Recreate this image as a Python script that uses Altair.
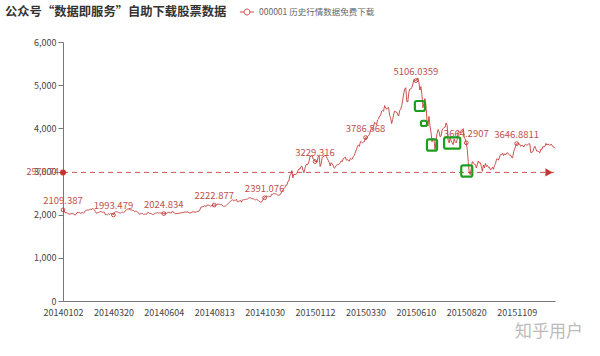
import altair as alt
import pandas as pd

title_text = "公众号“数据即服务”自助下载股票数据"
series_name = "000001 历史行情数据免费下载"
watermark = "知乎用户"

tick_labels = ["20140102", "20140320", "20140604", "20140813", "20141030",
               "20150112", "20150330", "20150610", "20150820", "20151109"]

# daily closes, 50 trading days per segment (first value of each segment is labelled)
seg0 = [2109.387, 2083.14, 2045.71, 2047.32, 2044.34, 2027.62, 2013.30, 2009.56, 2026.84, 2023.35,
        2023.66, 2004.95, 1991.25, 2008.31, 2051.75, 2042.18, 2054.39, 2033.30, 2038.51, 2049.91,
        2033.08, 2044.50, 2086.12, 2103.67, 2109.96, 2100.70, 2115.85, 2135.56, 2111.31, 2142.48,
        2127.94, 2113.69, 2076.69, 2034.22, 2041.06, 2047.35, 2056.30, 2075.24, 2071.47, 2053.09,
        2060.37, 2057.91, 1999.06, 2001.16, 1997.69, 2019.11, 2004.34, 2023.67, 2025.20, 2021.73]
seg1 = [1993.479, 2047.62, 2066.28, 2067.31, 2063.67, 2046.59, 2041.71, 2033.31, 2047.46, 2059.90,
        2043.71, 2058.99, 2098.29, 2109.84, 2134.28, 2130.54, 2131.54, 2105.12, 2106.25, 2098.89,
        2097.75, 2066.28, 2078.96, 2074.54, 2059.99, 2036.51, 2000.72, 2022.01, 2026.36, 2027.35,
        2004.21, 2012.10, 2010.08, 2011.13, 2052.87, 2050.49, 2024.24, 2027.28, 2021.30, 2005.22,
        2008.03, 2024.95, 2034.57, 2041.48, 2050.19, 2035.65, 2041.09, 2039.21, 2038.30, 2034.57]
seg2 = [2024.834, 2029.75, 2029.51, 2033.77, 2052.53, 2051.75, 2055.66, 2030.28, 2071.11, 2066.68,
        2055.25, 2024.37, 2023.73, 2026.67, 2025.50, 2034.06, 2036.51, 2039.70, 2048.33, 2050.38,
        2059.42, 2063.24, 2059.07, 2057.03, 2066.48, 2039.41, 2038.66, 2047.26, 2059.58, 2067.14,
        2065.88, 2054.48, 2059.08, 2075.48, 2075.45, 2083.19, 2126.61, 2177.96, 2183.03, 2181.24,
        2201.56, 2201.56, 2185.30, 2223.33, 2221.59, 2217.20, 2194.42, 2197.53, 2224.65, 2220.33]
seg3 = [2222.877, 2206.18, 2226.73, 2239.46, 2245.33, 2240.81, 2227.92, 2240.81, 2212.51, 2194.56,
        2195.04, 2197.39, 2217.20, 2235.51, 2266.05, 2288.63, 2306.85, 2326.43, 2344.84, 2325.66,
        2333.49, 2331.95, 2356.23, 2295.11, 2307.79, 2315.93, 2329.45, 2290.44, 2343.57, 2345.10,
        2347.72, 2352.90, 2357.55, 2363.87, 2382.79, 2389.37, 2386.78, 2373.54, 2366.01, 2365.35,
        2356.50, 2341.18, 2356.84, 2339.66, 2326.55, 2302.42, 2290.44, 2290.14, 2337.87, 2373.03]
seg4 = [2391.076, 2420.18, 2430.03, 2419.25, 2425.86, 2419.54, 2418.17, 2473.67, 2469.67, 2494.48,
        2485.61, 2478.82, 2474.01, 2452.66, 2450.99, 2452.66, 2486.79, 2532.88, 2567.60, 2604.35,
        2630.49, 2682.84, 2680.16, 2763.55, 2779.53, 2899.46, 2937.65, 3020.26, 2856.27, 2940.01,
        2925.74, 2938.17, 2953.42, 3021.52, 3061.02, 3057.52, 3108.60, 3127.45, 3032.61, 2972.53,
        3072.54, 3157.60, 3168.02, 3165.82, 3234.68, 3350.52, 3351.45, 3373.95, 3293.46, 3285.41]
seg5 = [3229.316, 3235.30, 3222.44, 3336.45, 3376.50, 3116.35, 3173.05, 3323.61, 3343.34, 3351.76,
        3383.18, 3352.96, 3305.74, 3262.30, 3210.36, 3128.30, 3204.91, 3174.13, 3136.53, 3075.91,
        3095.12, 3141.59, 3157.70, 3157.70, 3173.42, 3203.83, 3246.91, 3228.84, 3298.36, 3310.30,
        3336.28, 3263.05, 3279.53, 3248.48, 3241.19, 3302.41, 3286.07, 3290.90, 3349.32, 3372.91,
        3449.30, 3502.85, 3577.30, 3617.32, 3582.27, 3687.73, 3691.41, 3660.73, 3682.09, 3691.10]
seg6 = [3786.568, 3747.90, 3810.29, 3825.78, 3863.93, 3961.38, 3994.81, 3957.53, 4034.31, 4135.57,
        4121.71, 4084.16, 4194.82, 4217.08, 4287.30, 4293.62, 4398.49, 4414.51, 4398.09, 4527.40,
        4476.62, 4441.66, 4476.21, 4480.46, 4298.71, 4229.27, 4112.21, 4205.92, 4333.58, 4401.22,
        4375.76, 4378.31, 4308.69, 4283.49, 4417.55, 4446.29, 4529.42, 4657.60, 4813.80, 4910.90,
        4941.71, 4620.27, 4611.74, 4828.74, 4910.53, 4909.98, 4947.10, 5023.10, 5131.88, 5113.53]
seg7 = [5106.0359, 5121.59, 5166.35, 5062.99, 4887.43, 4967.90, 4785.36, 4478.36, 4576.49, 4690.15,
        4527.78, 4192.87, 4053.03, 4277.22, 4053.70, 3912.77, 3686.92, 3775.91, 3727.12, 3507.19,
        3709.33, 3877.80, 3970.39, 3924.49, 3805.70, 3823.18, 3957.35, 3992.11, 4017.67, 4026.04,
        4123.92, 4070.91, 3725.56, 3663.00, 3789.17, 3705.77, 3663.73, 3622.91, 3756.54, 3694.57,
        3661.54, 3744.20, 3928.42, 3927.91, 3886.32, 3954.56, 3965.33, 3993.67, 3794.11, 3748.16]
seg8 = [3664.2907, 3507.74, 3209.91, 2964.97, 2927.29, 3083.59, 3232.35, 3205.99, 3166.62, 3160.17,
        3080.42, 3170.45, 3243.09, 3197.89, 3200.23, 3114.80, 3005.17, 3152.26, 3086.06, 3185.62,
        3115.89, 3142.69, 3092.35, 3100.76, 3038.14, 3052.78, 3100.50, 3052.78, 3143.36, 3183.15,
        3287.66, 3293.23, 3262.44, 3338.07, 3391.35, 3386.70, 3425.33, 3368.74, 3412.43, 3382.56,
        3425.33, 3434.34, 3405.00, 3375.20, 3382.56, 3325.08, 3316.70, 3459.64, 3522.82, 3590.03]
seg9 = [3646.8811, 3640.49, 3650.25, 3632.90, 3580.84, 3606.96, 3604.80, 3568.47, 3617.06, 3630.50,
        3610.31, 3616.11, 3647.93, 3635.55, 3436.30, 3445.40, 3456.31, 3536.91, 3584.82, 3524.99,
        3470.07, 3472.44, 3455.50, 3434.58, 3520.67, 3510.35, 3580.00, 3567.00, 3579.00, 3651.77,
        3612.49, 3636.09, 3627.91, 3603.00, 3635.00, 3612.00, 3572.88, 3563.74, 3539.18]

# hand-drawn green annotation boxes (index range, value range)
box_x0 = [349, 355, 361, 378, 395]
box_x1 = [359, 361, 371, 394, 406]
box_y0 = [4633, 4176, 3746, 3792, 3143]
box_y1 = [4401, 4054, 3482, 3528, 2879]

closes = seg0 + seg1 + seg2 + seg3 + seg4 + seg5 + seg6 + seg7 + seg8 + seg9
n = len(closes)
df = pd.DataFrame({"idx": list(range(n)), "close": closes, "series": [series_name] * n})
box_df = pd.DataFrame({"x0": box_x0, "x1": box_x1, "y0": box_y0, "y1": box_y1})

RED = "#c23531"
LBL = "#c0504d"
FONT = "Noto Sans CJK SC"

label_arr = "[" + ",".join("'" + t + "'" for t in tick_labels) + "]"
x_scale = alt.Scale(domain=[0, n - 1], nice=False, zero=False)
y_scale = alt.Scale(domain=[0, 6000], nice=False)

x_axis = alt.Axis(
    values=list(range(0, 500, 25)),
    labelExpr="datum.value % 50 == 0 ? " + label_arr + "[datum.value / 50] : ''",
    tickOpacity={"condition": {"test": "datum.value % 50 == 25", "value": 1}, "value": 0},
    tickSize=4, tickColor="#777", domainColor="#777", labelColor="#444",
    labelFontSize=9, labelPadding=3, labelOverlap=False, labelFlush=False,
    labelBound=False, grid=False, title=None, labelFont=FONT,
)
y_axis = alt.Axis(
    values=[0, 1000, 2000, 3000, 4000, 5000, 6000], format=",d", grid=False, title=None,
    tickSize=5, tickColor="#777", domainColor="#777", labelColor="#444",
    labelFontSize=9, labelPadding=2, labelFont=FONT,
)


def X(field):
    return alt.X(field, scale=x_scale, title=None)


def Y(field):
    return alt.Y(field, scale=y_scale, title=None)


legend_path = ("M-1,0L-0.42,0M0.42,0L1,0M0.42,0A0.42,0.42,0,1,1,-0.42,0"
               "A0.42,0.42,0,1,1,0.42,0")

line = alt.Chart(df).mark_line(strokeWidth=1, opacity=0.85).encode(
    x=alt.X("idx:Q", scale=x_scale, axis=x_axis, title=None),
    y=alt.Y("close:Q", scale=y_scale, axis=y_axis, title=None),
    color=alt.Color("series:N", scale=alt.Scale(domain=[series_name], range=[RED]),
                    legend=alt.Legend(orient="none", legendX=176, legendY=-38, title=None,
                                      symbolType=legend_path, symbolSize=200,
                                      symbolStrokeWidth=1, symbolFillColor="white",
                                      labelFontSize=8.5, labelColor="#666", labelFont=FONT,
                                      labelOffset=4)),
)

labelled = alt.Chart(df).transform_filter("datum.idx % 50 == 0").transform_calculate(
    lbl="toString(datum.close)")
pts = labelled.mark_point(size=14, color=RED, filled=False, strokeWidth=1, opacity=0.9).encode(
    x=X("idx:Q"), y=Y("close:Q"))
txt = labelled.mark_text(dy=-9, color=LBL, fontSize=9.5, font=FONT).encode(
    x=X("idx:Q"), y=Y("close:Q"), text="lbl:N")

mean_base = alt.Chart(df).transform_aggregate(avg="mean(close)", x0="min(idx)", x1="max(idx)")
mean_rule = mean_base.mark_rule(strokeDash=[5, 4], color=RED, strokeWidth=1, opacity=0.85).encode(
    x=X("x0:Q"), x2="x1:Q", y=Y("avg:Q"))
mean_dot = mean_base.mark_point(filled=True, color=RED, size=36, opacity=1).encode(
    x=X("x0:Q"), y=Y("avg:Q"))
mean_arrow = mean_base.mark_point(shape="triangle-right", filled=True, color=RED, size=70,
                                  opacity=1, xOffset=-6).encode(
    x=X("x1:Q"), y=Y("avg:Q"))
mean_txt = mean_base.transform_calculate(lbl="format(datum.avg, '.2f')").mark_text(
    align="right", baseline="middle", dx=-4, color=LBL, fontSize=9, font=FONT).encode(
    x=X("x0:Q"), y=Y("avg:Q"), text="lbl:N")

boxes = alt.Chart(box_df).mark_rect(fillOpacity=0, stroke="#1e9e1e", strokeWidth=2.2,
                                    cornerRadius=2).encode(
    x=X("x0:Q"), x2="x1:Q", y=Y("y0:Q"), y2="y1:Q")

title = alt.Chart(pd.DataFrame({"t": [title_text]})).mark_text(
    align="left", baseline="middle", fontSize=12.3, fontWeight="bold", color="#333",
    font=FONT).encode(x=alt.value(-58), y=alt.value(-30), text="t:N")
wm = alt.Chart(pd.DataFrame({"t": [watermark]})).mark_text(
    align="right", baseline="middle", fontSize=17, color="#bbbbbb", font=FONT).encode(
    x=alt.value(520), y=alt.value(290), text="t:N")

chart = alt.layer(line, mean_rule, mean_dot, mean_arrow, mean_txt, pts, txt, boxes, title, wm).properties(
    width=492, height=259,
    padding={"left": 63, "top": 42, "right": 45, "bottom": 55},
    autosize=alt.AutoSizeParams(type="none"),
    background="white",
).configure_view(stroke=None)

chart.save("out.html", embed_options={"renderer": "svg", "actions": False})
